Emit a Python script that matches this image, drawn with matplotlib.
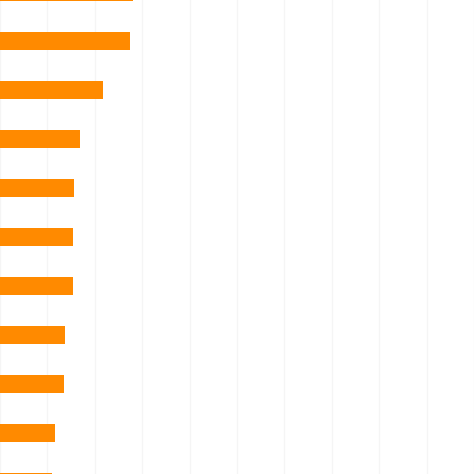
import numpy as np
import matplotlib.pyplot as plt

# bar lengths (grid step = 10)
rows = np.arange(11)
values = [28.1, 27.5, 21.7, 16.9, 15.6, 15.3, 15.3, 13.7, 13.4, 11.6, 11.0]

fig = plt.figure(figsize=(4.74, 4.74), dpi=100)
ax = fig.add_axes([0, 0, 1, 1])

ax.barh(rows, values, height=0.37, color='#ff8a00', edgecolor='none', zorder=2)

ax.set_xlim(0, 100)
ax.set_ylim(9.833, 0.159)
ax.set_xticks(np.arange(0, 101, 10))
ax.grid(axis='x', color='#f5f5f5', linewidth=1, zorder=0)
ax.grid(axis='y', visible=False)
ax.tick_params(left=False, bottom=False, labelleft=False, labelbottom=False)
for s in ax.spines.values():
    s.set_visible(False)

fig.savefig('out.png', dpi=100)
